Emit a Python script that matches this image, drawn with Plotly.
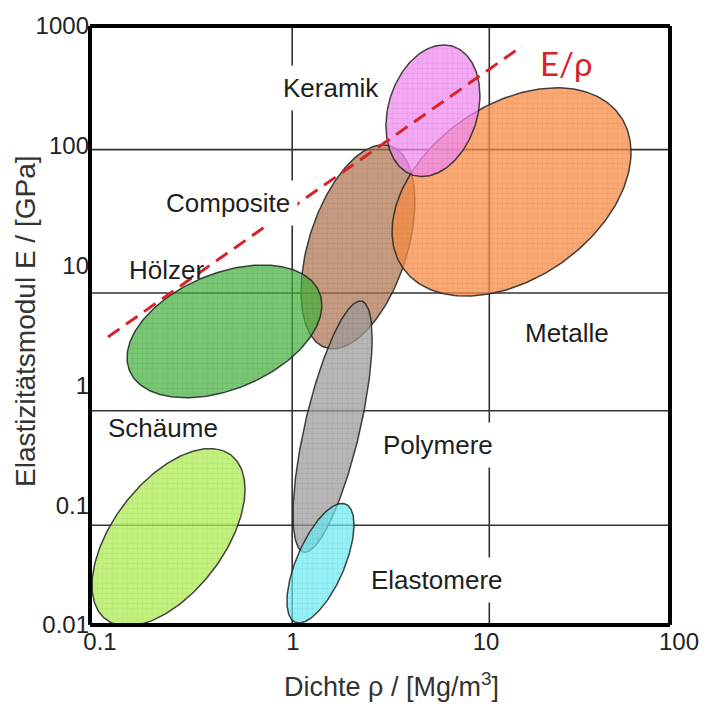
import numpy as np
import plotly.graph_objects as go

# ---------------- data ----------------
classes = ["Schäume", "Composite", "Hölzer", "Polymere", "Metalle", "Keramik", "Elastomere"]
rho_lo = [0.0909, 1.10, 0.138, 1.00, 3.26, 3.03, 0.93]      # Mg/m3
rho_hi = [0.564, 4.28, 1.41, 2.57, 56.4, 9.30, 2.07]
E_lo = [0.0098, 2.02, 0.788, 0.0405, 5.57, 55.4, 0.0104]     # GPa
E_hi = [0.297, 102.0, 10.1, 5.06, 305.0, 695.0, 0.1035]
corr = [0.54, 0.44, 0.395, 0.70, 0.38, 0.23, 0.64]
fills = ["rgba(175,236,85,0.75)", "rgba(175,118,80,0.72)", "rgba(70,178,62,0.72)",
         "rgba(155,155,155,0.72)", "rgba(248,140,70,0.75)", "rgba(240,140,240,0.75)",
         "rgba(105,236,243,0.7)"]
hatch = ["rgba(90,140,30,1)", "rgba(90,55,30,1)", "rgba(20,80,20,1)",
         "rgba(70,70,70,1)", "rgba(150,70,20,1)", "rgba(140,60,140,1)",
         "rgba(30,130,140,1)"]

label_text = ["Keramik", "Composite", "Hölzer", "Schäume", "Polymere", "Elastomere", "Metalle"]
label_rho = [1.57, 0.46, 0.222, 0.212, 5.64, 5.57, 26.3]
label_E = [305, 33.0, 9.16, 0.444, 0.321, 0.0237, 2.74]
label_bg = [True, True, False, False, True, True, False]

line_rho = [0.11, 15.4]
line_E = [2.54, 680]

grid_rho = [0.99, 10.4]
grid_E = [93, 5.9, 0.615, 0.068]

x_ticks = [0.1, 1, 10, 100]
x_ticktext = ["0.1", "1", "10", "100"]
y_ticks = [0.01, 0.1, 1, 10, 100, 1000]
y_ticktext = ["0.01", "0.1", "1", "10", "100", "1000"]

FONT = "Liberation Sans, Arial, sans-serif"

fig = go.Figure()

t = np.linspace(0, 2 * np.pi, 241)
for i, name in enumerate(classes):
    cx = (np.log10(rho_lo[i]) + np.log10(rho_hi[i])) / 2
    dx = (np.log10(rho_hi[i]) - np.log10(rho_lo[i])) / 2
    cy = (np.log10(E_lo[i]) + np.log10(E_hi[i])) / 2
    dy = (np.log10(E_hi[i]) - np.log10(E_lo[i])) / 2
    phi = np.arccos(corr[i])
    X = 10 ** (cx + dx * np.cos(t))
    Y = 10 ** (cy + dy * np.cos(t - phi))
    fig.add_trace(go.Scatter(x=X, y=Y, mode="lines", fill="toself", fillcolor=fills[i],
                             fillpattern=dict(shape="+", size=5, solidity=0.12,
                                              bgcolor=fills[i], fgcolor=hatch[i], fgopacity=0.22),
                             line=dict(color="rgba(35,35,35,0.85)", width=1.5),
                             name=name, showlegend=False, hoverinfo="skip"))

fig.add_trace(go.Scatter(x=line_rho, y=line_E, mode="lines",
                         line=dict(color="#d8232a", width=3, dash="14px,8px"),
                         showlegend=False, hoverinfo="skip"))

shapes = []
for g in grid_rho:
    shapes.append(dict(type="line", xref="x", yref="paper", x0=g, x1=g, y0=0, y1=1,
                       line=dict(color="#333333", width=1.6), layer="below"))
XR = 0.9847
for g in grid_E:
    shapes.append(dict(type="line", xref="paper", yref="y", x0=0, x1=XR, y0=g, y1=g,
                       line=dict(color="#333333", width=1.6), layer="below"))
frame = [(0, 0, 0, 1), (XR, XR, 0, 1), (0, XR, 0, 0), (0, XR, 1, 1)]
for x0, x1, y0, y1 in frame:
    shapes.append(dict(type="line", xref="paper", yref="paper", x0=x0, x1=x1, y0=y0, y1=y1,
                       line=dict(color="black", width=4), layer="above"))

annotations = []
for txt, r, e, bg in zip(label_text, label_rho, label_E, label_bg):
    a = dict(x=np.log10(r), y=np.log10(e), xref="x", yref="y", text=txt, showarrow=False,
             font=dict(family=FONT, size=26, color="#1e1e1e"), xanchor="center", yanchor="middle")
    if bg:
        a.update(bgcolor="white", borderpad=7)
    annotations.append(a)
annotations.append(dict(x=np.log10(26.0), y=np.log10(492), xref="x", yref="y", text="E/ρ",
                        showarrow=False, font=dict(family="Lato, Open Sans, sans-serif", size=33, color="#d8232a"),
                        xanchor="center", yanchor="middle"))
annotations.append(dict(x=0.5127, y=-0.1, xref="paper", yref="paper", text="Dichte ρ / [Mg/m<sup>3</sup>]",
                        showarrow=False, font=dict(family=FONT, size=27, color="#333333"),
                        xanchor="center", yanchor="middle"))
annotations.append(dict(x=-0.1104, y=0.5075, xref="paper", yref="paper", text="Elastizitätsmodul E / [GPa]",
                        showarrow=False, textangle=-90, font=dict(family=FONT, size=28, color="#333333"),
                        xanchor="center", yanchor="middle"))

fig.update_layout(
    width=717, height=712,
    margin=dict(l=90, r=38, t=24, b=87),
    paper_bgcolor="white", plot_bgcolor="white",
    shapes=shapes, annotations=annotations,
    xaxis=dict(type="log", range=[-1.052, 2.0], tickvals=x_ticks, ticktext=x_ticktext,
               showgrid=False, zeroline=False, showline=False, ticks="",
               tickfont=dict(family=FONT, size=24, color="#222222")),
    yaxis=dict(type="log", range=[-2, 3], tickvals=y_ticks, ticktext=y_ticktext,
               showgrid=False, zeroline=False, showline=False, ticks="",
               tickfont=dict(family=FONT, size=24, color="#222222")),
)

fig.write_html("out.html")
